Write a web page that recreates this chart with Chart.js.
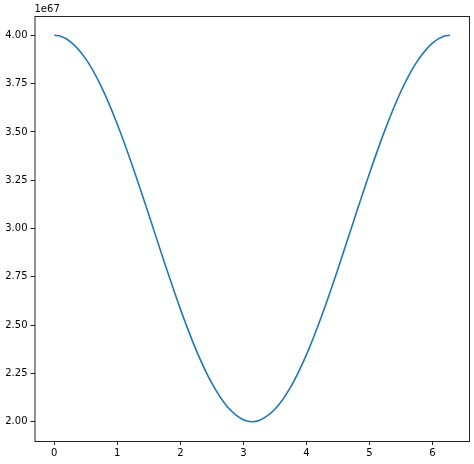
<!DOCTYPE html>
<html lang="en">

<head>
    <meta charset="UTF-8">
    <title>Cosine curve</title>
    <script src="https://cdn.jsdelivr.net/npm/chart.js"></script>
    <style>
        html, body {
            margin: 0;
            padding: 0;
            background: #fff;
        }

        #wrap {
            width: 474px;
            height: 464px;
        }
    </style>
</head>

<body>
    <div id="wrap">
        <canvas id="myChart" width="474" height="464"></canvas>
    </div>
    <script>
        // Values (y in units of 1e67)
        const xValues = [0, 0.1, 0.25, 0.5, 0.75, 1.0, 1.25, 1.5, 1.75, 2.0, 2.25, 2.5, 2.75, 3.0, 3.14,
            3.25, 3.5, 3.75, 4.0, 4.25, 4.5, 4.75, 5.0, 5.25, 5.5, 5.75, 6.0, 6.18, 6.28];
        const yValues = [4.000, 3.995, 3.969, 3.878, 3.732, 3.540, 3.315, 3.071, 2.822, 2.584, 2.372, 2.199, 2.076, 2.010, 2.000,
            2.006, 2.064, 2.179, 2.346, 2.554, 2.789, 3.038, 3.284, 3.512, 3.709, 3.861, 3.960, 3.995, 4.000];
        const xTicks = [0, 1, 2, 3, 4, 5, 6];
        const yTicks = [2.00, 2.25, 2.50, 2.75, 3.00, 3.25, 3.50, 3.75, 4.00];
        const offsetLabel = '1e67';

        const FONT = { family: 'DejaVu Sans', size: 10 };

        // Frame around the axes plus the exponent label, like matplotlib
        const framePlugin = {
            id: 'frame',
            afterDraw(chart) {
                const a = chart.chartArea;
                const ctx = chart.ctx;
                ctx.save();
                ctx.strokeStyle = '#222';
                ctx.lineWidth = 1;
                ctx.strokeRect(a.left + 0.5, a.top + 0.5, a.right - a.left - 1, a.bottom - a.top);
                ctx.fillStyle = '#000';
                ctx.font = '10px "DejaVu Sans"';
                ctx.textAlign = 'left';
                ctx.textBaseline = 'alphabetic';
                ctx.fillText(offsetLabel, a.left, a.top - 4);
                ctx.restore();
            }
        };

        const points = xValues.map((x, i) => ({ x: x, y: yValues[i] }));

        const ctx = document.getElementById('myChart').getContext('2d');
        new Chart(ctx, {
            type: 'line',
            data: {
                datasets: [{
                    data: points,
                    borderColor: '#1f77b4',
                    borderWidth: 1.6,
                    pointRadius: 0,
                    fill: false,
                    cubicInterpolationMode: 'monotone'
                }]
            },
            options: {
                responsive: false,
                animation: false,
                devicePixelRatio: 1,
                layout: { padding: { left: 0, right: 4, top: 16, bottom: 0 } },
                plugins: {
                    legend: { display: false },
                    tooltip: { enabled: false }
                },
                scales: {
                    x: {
                        type: 'linear',
                        min: -0.314,
                        max: 6.597,
                        afterBuildTicks: s => { s.ticks = xTicks.map(v => ({ value: v })); },
                        afterFit: s => { s.height = 23; },
                        border: { display: false },
                        grid: { drawOnChartArea: false, drawTicks: true, tickLength: 4, tickColor: '#222' },
                        ticks: { color: '#000', font: FONT, padding: 2, maxRotation: 0, callback: v => String(v) }
                    },
                    y: {
                        type: 'linear',
                        min: 1.9,
                        max: 4.1,
                        afterBuildTicks: s => { s.ticks = yTicks.map(v => ({ value: v })); },
                        afterFit: s => { s.width = 34.5; },
                        border: { display: false },
                        grid: { drawOnChartArea: false, drawTicks: true, tickLength: 4, tickColor: '#222' },
                        ticks: { color: '#000', font: FONT, padding: 3, callback: v => Number(v).toFixed(2) }
                    }
                }
            },
            plugins: [framePlugin]
        });
    </script>
</body>

</html>
